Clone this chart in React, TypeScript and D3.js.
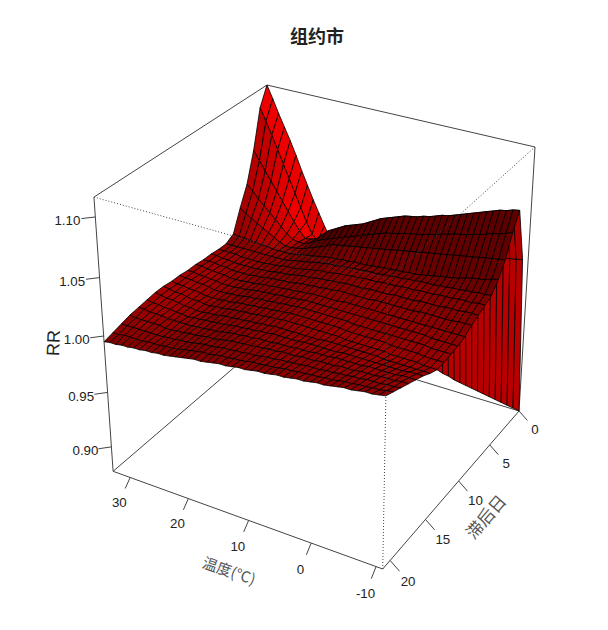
import React from 'react';
import * as d3 from 'd3';

const title = '组约市';
const tempTicks = [-10, 0, 10, 20, 30];
const lagTicks = [0, 5, 10, 15, 20];
const rrTicks = [0.9, 0.95, 1.0, 1.05, 1.1];

// temperature grid -11..33, one value per degree
const temps = [-11,-10,-9,-8,-7,-6,-5,-4,-3,-2,-1,0,1,2,3,4,5,6,7,8,9,10,11,12,13,14,15,16,17,18,19,20,21,22,23,24,25,26,27,28,29,30,31,32,33];
const lags = [0,1,2,3,4,5,6,7,8,9,10,11,12,13,14,15,16,17,18,19,20,21];

// RR x 1000, one row per lag day
const lag0 = [877,878,879,880,881,882,883,884,885,886,887,888,890,891,893,895,898,901,904,908,912,916,921,926,931,937,943,950,956,963,970,977,985,990,1000,1011,1022,1034,1046,1059,1071,1082,1093,1105,1116];
const lag1 = [1024,1023,1022,1021,1020,1019,1018,1017,1016,1015,1014,1013,1012,1011,1010,1009,1008,1006,1005,1004,1003,1002,1001,1000,999,998,997,996,995,994,993,992,991,991,992,996,1006,1018,1030,1042,1054,1066,1078,1089,1100];
const lag2 = [1072,1071,1069,1068,1066,1064,1062,1060,1058,1056,1054,1052,1051,1049,1047,1046,1044,1043,1042,1040,1038,1036,1034,1031,1028,1025,1023,1021,1019,1016,1013,1010,1005,1000,998,997,1003,1010,1018,1026,1034,1042,1050,1058,1066];
const lag3 = [1058,1056,1054,1053,1051,1049,1048,1046,1045,1044,1042,1041,1039,1038,1036,1035,1034,1033,1031,1030,1029,1027,1025,1023,1021,1019,1017,1015,1013,1011,1009,1007,1004,1001,999,999,1000,1004,1009,1014,1019,1024,1029,1035,1040];
const lag4 = [1040,1039,1038,1037,1036,1035,1034,1033,1032,1031,1030,1029,1028,1027,1026,1025,1024,1023,1022,1021,1020,1019,1018,1017,1016,1015,1014,1013,1012,1009,1007,1005,1003,1001,1000,999,999,1001,1004,1007,1010,1013,1016,1019,1023];
const lag5 = [1028,1027,1025,1024,1023,1022,1020,1019,1018,1017,1016,1015,1014,1013,1013,1012,1012,1011,1011,1010,1010,1009,1009,1009,1008,1008,1007,1007,1006,1005,1004,1003,1002,1001,1000,1000,1000,1000,1001,1001,1002,1002,1003,1003,1004];
const lag6 = [1020,1019,1019,1018,1018,1017,1017,1016,1016,1015,1015,1015,1014,1014,1013,1013,1012,1012,1011,1011,1011,1010,1010,1009,1009,1008,1008,1007,1006,1005,1004,1003,1002,1001,1000,1000,1000,1000,1000,1000,1000,1000,1000,1000,1000];
const lag7 = [1017,1017,1016,1016,1016,1015,1015,1015,1014,1014,1014,1013,1013,1013,1012,1012,1012,1011,1011,1011,1010,1010,1009,1009,1008,1007,1007,1006,1005,1004,1003,1002,1002,1001,1000,1000,999,999,999,999,999,1000,1000,1000,1000];
const lag8 = [1014,1014,1014,1013,1013,1013,1012,1012,1012,1012,1011,1011,1011,1011,1010,1010,1010,1010,1009,1009,1009,1009,1008,1008,1007,1007,1006,1005,1005,1004,1003,1002,1002,1001,1000,1000,999,999,999,999,999,1000,1000,1001,1001];
const lag9 = [1011,1011,1011,1010,1010,1010,1010,1010,1010,1009,1009,1009,1009,1009,1009,1009,1008,1008,1008,1008,1008,1008,1007,1007,1006,1006,1005,1005,1004,1003,1003,1002,1002,1001,1000,1000,999,999,999,999,1000,1000,1001,1001,1001];
const lag10 = [1007,1007,1007,1007,1007,1007,1007,1007,1007,1007,1007,1007,1007,1007,1007,1007,1007,1007,1007,1007,1006,1006,1006,1006,1006,1005,1005,1004,1004,1003,1003,1002,1002,1001,1000,1000,999,999,999,1000,1000,1001,1001,1002,1002];
const lag11 = [1005,1005,1005,1005,1005,1006,1006,1006,1006,1006,1006,1006,1006,1006,1006,1006,1006,1006,1006,1006,1006,1006,1006,1006,1006,1005,1005,1004,1004,1003,1003,1002,1002,1001,1000,1000,999,999,999,1000,1000,1001,1001,1002,1002];
const lag12 = [1004,1004,1004,1004,1005,1005,1005,1005,1005,1005,1005,1005,1005,1005,1005,1005,1006,1006,1006,1006,1006,1006,1006,1006,1006,1005,1005,1004,1004,1003,1003,1002,1002,1001,1000,1000,999,999,999,1000,1001,1001,1002,1002,1003];
const lag13 = [1003,1003,1003,1003,1004,1004,1004,1004,1004,1005,1005,1005,1005,1005,1005,1005,1006,1006,1006,1006,1006,1006,1006,1006,1006,1005,1005,1004,1004,1003,1003,1002,1002,1001,1000,1000,999,999,999,1000,1001,1001,1002,1002,1003];
const lag14 = [1003,1003,1003,1004,1004,1004,1004,1004,1005,1005,1005,1005,1005,1005,1005,1006,1006,1006,1006,1006,1006,1006,1006,1006,1006,1005,1005,1004,1004,1003,1003,1002,1002,1001,1000,1000,999,999,1000,1000,1001,1002,1002,1003,1004];
const lag15 = [1006,1006,1006,1006,1006,1006,1006,1006,1007,1007,1007,1007,1007,1007,1007,1007,1007,1006,1006,1006,1006,1006,1006,1006,1006,1005,1005,1004,1004,1003,1003,1002,1002,1001,1000,1000,999,999,1000,1000,1001,1002,1002,1003,1004];
const lag16 = [1010,1010,1010,1009,1009,1009,1009,1009,1009,1009,1009,1009,1009,1008,1008,1008,1008,1008,1008,1007,1007,1007,1007,1007,1006,1006,1005,1005,1004,1004,1003,1002,1002,1001,1001,1000,1000,999,1000,1000,1001,1001,1002,1002,1003];
const lag17 = [1013,1013,1013,1012,1012,1012,1012,1012,1011,1011,1011,1011,1011,1010,1010,1010,1009,1009,1009,1008,1008,1008,1007,1007,1007,1006,1006,1005,1005,1004,1003,1002,1002,1001,1001,1000,1000,1000,1000,1000,1001,1001,1001,1002,1002];
const lag18 = [1016,1016,1015,1015,1015,1014,1014,1014,1013,1013,1013,1012,1012,1012,1011,1011,1011,1010,1010,1010,1009,1009,1008,1008,1007,1007,1006,1006,1005,1004,1003,1003,1002,1001,1001,1000,1000,999,999,1000,1000,1000,1000,1000,1001];
const lag19 = [1019,1018,1018,1017,1017,1017,1016,1016,1015,1015,1014,1014,1013,1013,1013,1012,1012,1011,1011,1010,1010,1009,1008,1008,1007,1007,1006,1006,1005,1004,1004,1003,1002,1001,1001,1000,1000,999,999,999,999,999,999,999,999];
const lag20 = [1022,1021,1020,1020,1019,1019,1018,1018,1017,1016,1016,1015,1015,1014,1014,1013,1013,1012,1011,1011,1010,1010,1009,1008,1008,1007,1007,1006,1005,1005,1004,1003,1002,1001,1000,1000,999,999,999,998,998,998,998,997,997];
const lag21 = [1025,1024,1023,1023,1022,1021,1021,1020,1019,1018,1018,1017,1016,1016,1015,1014,1014,1013,1012,1012,1011,1010,1010,1009,1008,1008,1007,1006,1005,1005,1004,1003,1002,1001,1000,1000,999,999,998,998,997,997,996,996,995];
const rows = [lag0,lag1,lag2,lag3,lag4,lag5,lag6,lag7,lag8,lag9,lag10,lag11,lag12,lag13,lag14,lag15,lag16,lag17,lag18,lag19,lag20,lag21];

const uScale = d3.scaleLinear().domain([-11, 33]).range([0, 1]);
const vScale = d3.scaleLinear().domain([0, 21]).range([0, 1]);
const wScale = d3.scaleLinear().domain([0.877, 1.116]).range([0, 1]);

// perspective matrix of the view, box coords -> page px
const project = (u: number, v: number, w: number): [number, number] => {
  const x = 562.6 - 246.8 * u - 199.5 * v - 27.6 * w;
  const y = 445.5 - 55.2 * u + 94.3 * v - 298.5 * w;
  const d = 1.084 + 0.0795 * u - 0.1353 * v - 0.084 * w;
  return [x / d, y / d];
};

const light = [-0.97, -0.26, 0];
const lightLen = Math.hypot(light[0], light[1], light[2]);

const line = d3.line();
const seg = (a: number[], b: number[]) => line([project(a[0], a[1], a[2]), project(b[0], b[1], b[2])]) as string;

const wAt = (i: number, j: number) => wScale(rows[j][i] / 1000);

// slopes over a few cells so the table's rounding doesn't speckle the shading
function facetColor(i: number, j: number) {
  const i0 = Math.max(0, i - 3);
  const i1 = Math.min(temps.length - 1, i + 4);
  const j0 = j < 3 ? j : j - 1;
  const j1 = j < 3 ? j + 1 : Math.min(lags.length - 1, j + 2);
  const dwdu = (wAt(i1, j) + wAt(i1, j + 1) - wAt(i0, j) - wAt(i0, j + 1)) / 2 / (uScale(temps[i1]) - uScale(temps[i0]));
  const dwdv = (wAt(i, j1) + wAt(i + 1, j1) - wAt(i, j0) - wAt(i + 1, j0)) / 2 / (vScale(lags[j1]) - vScale(lags[j0]));
  const len = Math.hypot(dwdu, dwdv, 1) * lightLen;
  const dot = (-dwdu * light[0] - dwdv * light[1] + light[2]) / len;
  const shade = Math.min(1, 1.15 * ((1 + dot) / 2));
  return d3.rgb(Math.round(255 * shade), 0, 0).formatHex();
}

const corner = (i: number, j: number) => project(uScale(temps[i]), vScale(lags[j]), wAt(i, j));

// back to front: hottest column first, lag 0 first
const facets: { d: string; fill: string }[] = [];
for (let i = temps.length - 2; i >= 0; i--) {
  for (let j = 0; j < lags.length - 1; j++) {
    facets.push({
      d: (line([corner(i, j), corner(i + 1, j), corner(i + 1, j + 1), corner(i, j + 1)]) as string) + 'Z',
      fill: facetColor(i, j)
    });
  }
}

const solidEdges = [
  [[1, 0, 0], [0, 0, 0]], [[1, 0, 0], [1, 1, 0]], [[1, 0, 0], [1, 0, 1]],
  [[1, 1, 0], [0, 1, 0]], [[0, 1, 0], [0, 0, 0]], [[1, 1, 0], [1, 1, 1]],
  [[0, 0, 0], [0, 0, 1]], [[1, 1, 1], [1, 0, 1]], [[1, 0, 1], [0, 0, 1]]
];
const dottedEdges = [
  [[1, 1, 1], [0, 1, 1]], [[0, 0, 1], [0, 1, 1]], [[0, 1, 0], [0, 1, 1]]
];

const labelFont = '"Liberation Sans", Arial, sans-serif';
const cjkFont = '"Noto Sans CJK SC", sans-serif';
const inkColor = '#222';
const edgeColor = '#444';

export default function App() {
  const tempTickDelta = [0, 0.03, -0.025];
  const lagTickDelta = [-0.033, 0, -0.028];
  const rrTickDelta = [0.03, 0.03, 0];

  const tickMark = (p: number[], delta: number[], k: number) => [p[0] + delta[0] * k, p[1] + delta[1] * k, p[2] + delta[2] * k];

  const axisGroup = (values: number[], at: (t: number) => number[], delta: number[], fmt: (t: number) => string, k: number) =>
    values.map(t => {
      const base = at(t);
      const lab = project(...(tickMark(base, delta, k) as [number, number, number]));
      return (
        <g key={t}>
          <path d={seg(base, tickMark(base, delta, 1))} stroke={edgeColor} fill="none" strokeWidth={1} />
          <text x={lab[0]} y={lab[1]} dy="0.36em" textAnchor="middle" fontFamily={labelFont} fontSize={13.3} fill={inkColor}>{fmt(t)}</text>
        </g>
      );
    });

  return (
    <svg width={608} height={630} style={{ position: 'absolute', left: 0, top: 0, background: '#fff' }}>
      <text x={317} y={43} textAnchor="middle" fontFamily={cjkFont} fontWeight="bold" fontSize={18} fill={inkColor}>{title}</text>

      {solidEdges.map((e, i) => <path key={i} d={seg(e[0], e[1])} stroke={edgeColor} strokeWidth={1} fill="none" />)}

      <g strokeWidth={0.8} stroke="#000" strokeLinejoin="round">
        {facets.map((f, i) => <path key={i} d={f.d} fill={f.fill} />)}
      </g>

      {dottedEdges.map((e, i) => <path key={i} d={seg(e[0], e[1])} stroke={edgeColor} strokeWidth={1} strokeDasharray="1 2" fill="none" />)}

      {axisGroup(tempTicks, t => [uScale(t), 1, 0], tempTickDelta, t => String(t), 2.2)}
      {axisGroup(lagTicks, t => [0, vScale(t), 0], lagTickDelta, t => String(t), 1.9)}
      {axisGroup(rrTicks, t => [1, 1, wScale(t)], rrTickDelta, t => d3.format('.2f')(t), 2)}

      <text transform="translate(53,343) rotate(-88)" textAnchor="middle" dy="0.36em" fontFamily={labelFont} fontSize={18} fill={inkColor}>RR</text>
      <text transform="translate(229,571) rotate(19)" textAnchor="middle" dy="0.36em" fontFamily={cjkFont} fontSize={15} fill="#555">温度(℃)</text>
      <text transform="translate(486,517) rotate(-49)" textAnchor="middle" dy="0.36em" fontFamily={cjkFont} fontSize={17} fill="#555">滞后日</text>
    </svg>
  );
}
